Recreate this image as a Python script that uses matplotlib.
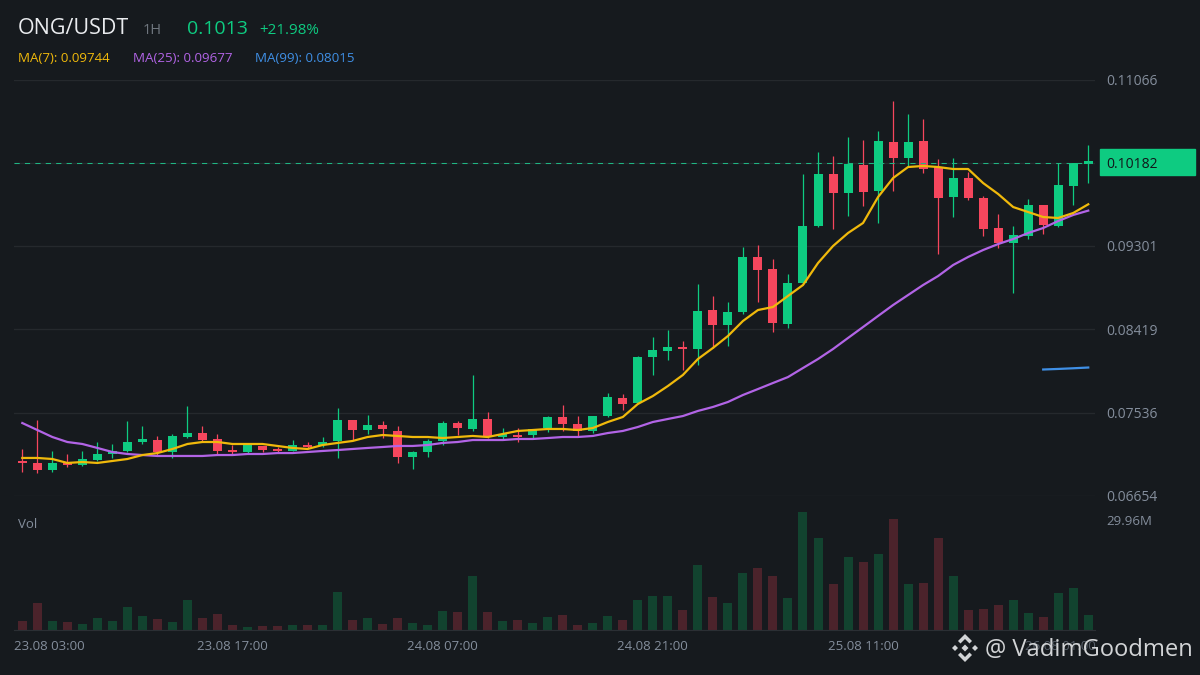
import matplotlib
matplotlib.use("Agg")
import matplotlib.pyplot as plt

# values (1H candles, idx 0 = 23.08 03:00)
opens = [.07025,.07004,.06930,.07014,.06983,.07035,.07099,.07131,.07226,.07247,.07120,.07279,
         .07321,.07258,.07141,.07120,.07184,.07152,.07131,.07194,.07194,.07237,.07459,.07353,
         .07406,.07343,.07067,.07120,.07237,.07427,.07364,.07470,.07279,.07300,.07300,.07374,
         .07491,.07417,.07343,.07501,.07692,.07639,.08126,.08190,.08232,.08211,.08624,.08465,
         .08603,.09186,.09058,.08476,.08910,.09514,.10065,.09864,.10160,.09885,.10404,.10234,
         .10414,.10139,.09821,.10022,.09811,.09493,.09334,.09408,.09736,.09514,.09938,.10171]
highs = [.07152,.07459,.07131,.07099,.07131,.07226,.07205,.07449,.07396,.07290,.07311,.07607,
         .07396,.07311,.07194,.07205,.07184,.07173,.07247,.07226,.07279,.07586,.07459,.07512,
         .07449,.07396,.07131,.07258,.07449,.07449,.07936,.07544,.07374,.07374,.07364,.07501,
         .07618,.07501,.07501,.07745,.07735,.08137,.08338,.08412,.08296,.08900,.08773,.08709,
         .09292,.09313,.09165,.09006,.10065,.10298,.10256,.10457,.10425,.10520,.10838,.10700,
         .10648,.10224,.10234,.10086,.09832,.09641,.09514,.09800,.09736,.10181,.10181,.10372]
lows = [.06908,.06898,.06908,.06961,.06972,.07025,.07057,.07120,.07205,.07088,.07057,.07268,
        .07226,.07099,.07099,.07109,.07120,.07120,.07131,.07163,.07173,.07057,.07247,.07311,
        .07268,.07004,.06940,.07067,.07194,.07300,.07343,.07268,.07258,.07226,.07268,.07332,
        .07343,.07290,.07321,.07491,.07565,.07629,.07936,.08095,.07989,.08042,.08222,.08243,
        .08582,.08709,.08391,.08434,.08900,.09503,.09482,.09620,.09726,.09546,.09885,.10139,
        .10075,.09217,.09609,.09790,.09408,.09281,.08804,.09376,.09429,.09503,.09736,.09969]
closes = [.07004,.06930,.07004,.06983,.07046,.07099,.07131,.07226,.07258,.07120,.07290,.07321,
          .07247,.07131,.07120,.07194,.07141,.07131,.07194,.07173,.07226,.07459,.07353,.07406,
          .07364,.07067,.07120,.07237,.07427,.07374,.07470,.07290,.07311,.07279,.07364,.07491,
          .07417,.07343,.07501,.07703,.07629,.08126,.08201,.08232,.08211,.08614,.08465,.08603,
          .09186,.09048,.08486,.08910,.09514,.10065,.09864,.10171,.09874,.10414,.10234,.10404,
          .10118,.09811,.10022,.09811,.09482,.09334,.09419,.09736,.09525,.09948,.10181,.10203]
ma7 = [.07057,.07057,.07046,.07004,.07014,.07004,.07025,.07046,.07088,.07109,.07152,.07205,
       .07226,.07226,.07205,.07205,.07205,.07184,.07163,.07152,.07194,.07216,.07237,.07279,
       .07300,.07290,.07279,.07279,.07268,.07279,.07290,.07279,.07311,.07343,.07353,.07364,
       .07364,.07353,.07374,.07438,.07491,.07629,.07713,.07819,.07936,.08105,.08222,.08349,
       .08508,.08624,.08656,.08773,.08889,.09122,.09302,.09440,.09546,.09821,.10022,.10139,
       .10150,.10139,.10118,.10118,.09969,.09853,.09715,.09662,.09609,.09599,.09652,.09744]
ma25 = [.07427,.07353,.07279,.07226,.07205,.07163,.07120,.07099,.07088,.07078,.07078,.07078,
        .07078,.07088,.07088,.07099,.07099,.07109,.07109,.07120,.07131,.07141,.07152,.07163,
        .07173,.07184,.07184,.07194,.07216,.07226,.07247,.07247,.07247,.07258,.07258,.07268,
        .07279,.07279,.07290,.07321,.07343,.07385,.07438,.07470,.07501,.07555,.07597,.07650,
        .07724,.07787,.07851,.07914,.08010,.08105,.08211,.08328,.08444,.08561,.08677,.08783,
        .08889,.08984,.09101,.09186,.09260,.09323,.09376,.09440,.09493,.09567,.09631,.09677]
ma99_idx = [68, 69, 70, 71]
ma99 = [.07994, .08000, .08007, .08015]
# volume in millions
volumes = [2.45,7.35,2.45,2.18,1.63,3.27,2.45,6.27,3.81,3.00,2.18,8.17,3.27,4.36,1.36,0.82,1.09,1.09,
           1.36,1.36,1.36,10.35,2.72,3.27,1.63,3.27,1.91,1.36,5.18,4.90,14.71,4.90,2.45,2.72,1.91,3.54,
           4.09,1.36,1.91,3.81,2.72,8.17,9.26,9.26,5.45,17.71,8.99,7.35,15.53,16.89,14.71,8.72,32.14,25.06,
           12.53,19.89,18.52,20.70,30.24,12.53,12.80,25.06,14.71,5.45,5.72,6.81,8.17,4.63,3.54,10.08,11.44,4.09]
price_ticks = [0.11066, 0.09301, 0.08419, 0.07536, 0.06654]
price_labels = ["0.11066", "0.09301", "0.08419", "0.07536", "0.06654"]
last_price = 0.10182
date_idx = [14, 28, 42, 56]
date_labels = ["23.08 17:00", "24.08 07:00", "24.08 21:00", "25.08 11:00"]

BG = "#161A1E"
GRID = "#25292D"
GREEN = "#0ECB81"
RED = "#F6465D"
VOL_GREEN = "#12432F"
VOL_RED = "#4B232B"
TXT = "#848E9C"
FONT = "Open Sans"
W, H = 1200, 675

plt.rcParams["font.family"] = [FONT, "DejaVu Sans"]
fig = plt.figure(figsize=(12, 6.75), dpi=100, facecolor=BG)

def box(x0, y0, x1, y1):
    # pixel box, y from top
    return [x0 / W, 1 - y1 / H, (x1 - x0) / W, (y1 - y0) / H]

def label(x, y, s, color=TXT, size=10, **kw):
    fig.text(x / W, 1 - y / H, s, color=color, fontsize=size, va="center", **kw)

def shape(points, color="#D2D4D6"):
    # polygon for the watermark logo, offsets from its centre in px
    cx, cy = 965, 648
    pts = [((cx + a) / W, 1 - (cy + b) / H) for a, b in points]
    fig.add_artist(plt.Polygon(pts, closed=True, transform=fig.transFigure, color=color, lw=0))

xlim = (-0.553, 71.45)
ax = fig.add_axes(box(14, 79.5, 1095, 496))
ax.set_facecolor(BG)
ax.set_xlim(xlim)
ax.set_ylim(0.06654, 0.11066)
vol = fig.add_axes(box(14, 510, 1095, 630))
vol.patch.set_alpha(0)
vol.set_xlim(xlim)
vol.set_ylim(0, 32.69)

xs = list(range(len(opens)))
colors = [GREEN if c >= o else RED for o, c in zip(opens, closes)]
vcolors = [VOL_GREEN if c >= o else VOL_RED for o, c in zip(opens, closes)]

ax.set_yticks(price_ticks + [last_price])
ax.yaxis.tick_right()
ax.set_xticks([])
ax.grid(True, axis="y", color=GRID, lw=1)
ax.tick_params(length=0, labelright=False)
for s in ax.spines.values():
    s.set_visible(False)
ax.set_axisbelow(True)

ax.vlines(xs, lows, highs, colors=colors, lw=0.9, zorder=2)
ax.bar(xs, [abs(c - o) for o, c in zip(opens, closes)], bottom=[min(o, c) for o, c in zip(opens, closes)],
       width=0.6, color=colors, zorder=3)
ax.axhline(last_price, color="#1FB583", lw=0.75, dashes=(5, 5), zorder=4)
ax.plot(xs, ma25, color="#B264E6", lw=1.6, zorder=5)
ax.plot(xs, ma7, color="#F0B90B", lw=1.6, zorder=6)
ax.plot(ma99_idx, ma99, color="#3F8FE5", lw=1.6, zorder=5)

vol.bar(xs, volumes, width=0.6, color=vcolors)
for s in ["top", "left", "right"]:
    vol.spines[s].set_visible(False)
vol.spines["bottom"].set_color("#2B2F34")
vol.set_yticks([])
vol.set_xticks(date_idx)
vol.set_xticklabels(date_labels, color=TXT, fontsize=9.5)
vol.tick_params(axis="x", length=0, pad=7)

# price axis labels
for p, s in zip(price_ticks, price_labels):
    ax.annotate(s, (1, p), xycoords=("axes fraction", "data"), xytext=(1106, -1.2), textcoords=("figure pixels", "offset points"),
                color=TXT, fontsize=10, va="center", annotation_clip=False)

# last price tag
fig.patches.append(plt.Rectangle((1100 / W, 1 - 175 / H), 95 / W, 26 / H, transform=fig.transFigure, color=GREEN))
label(1106, 164, "0.10182", color="#12161A", size=10)

# header
label(18, 28, "ONG/USDT", color="#EAECEF", size=15.5)
label(143, 30, "1H", color="#6F767E", size=10.5)
label(187, 28.5, "0.1013", color=GREEN, size=14)
label(259, 30, "+21.98%", color=GREEN, size=10.9)
label(18, 59, "MA(7): 0.09744", color="#F0B90B", size=9.65)
label(133, 59, "MA(25): 0.09677", color="#B264E6", size=9.6)
label(255, 59, "MA(99): 0.08015", color="#3F8FE5", size=9.6)
label(18, 524, "Vol", size=9.5)
label(1106, 521.5, "29.96M", size=9.5)

# clamped date labels at both ends
label(14, 647, "23.08 03:00", size=9.5)
label(1025, 647, "26.08 01:00", size=9.5, alpha=0.6)

# watermark: binance logo then handle
shape([(0, -14), (7, -7), (4.5, -4.5), (0, -9), (-4.5, -4.5), (-7, -7)])
shape([(0, 14), (7, 7), (4.5, 4.5), (0, 9), (-4.5, 4.5), (-7, 7)])
shape([(-13, 0), (-10, -3), (-7, 0), (-10, 3)])
shape([(13, 0), (10, -3), (7, 0), (10, 3)])
shape([(0, -3.5), (3.5, 0), (0, 3.5), (-3.5, 0)])
label(985, 649.5, "@ VadimGoodmen", color="#D2D4D6", size=17.1)

fig.savefig("out.png", dpi=100, facecolor=BG)
